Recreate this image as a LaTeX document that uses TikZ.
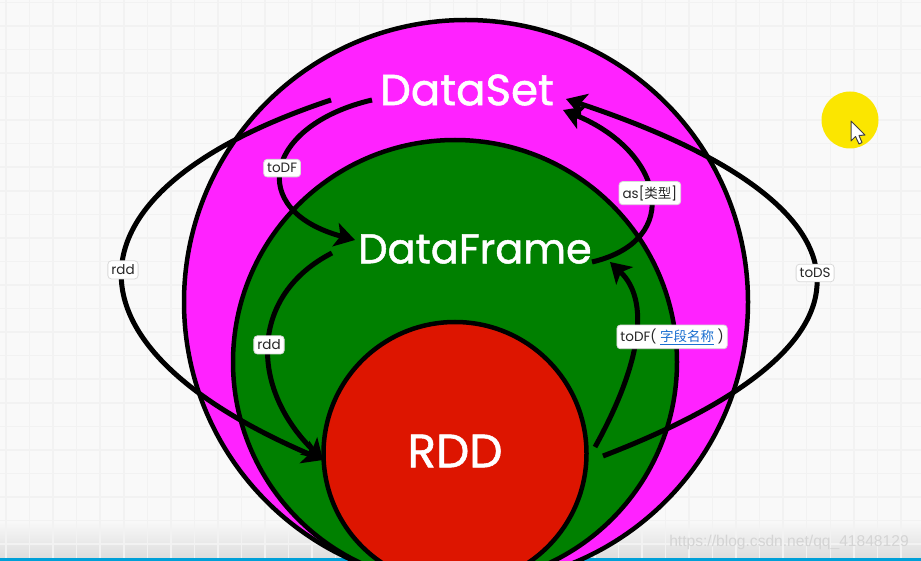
\documentclass[tikz,border=0pt]{standalone}
\usepackage{fontspec}
\setmainfont{Poppins}
\newfontfamily\titlefont[FakeBold=1.2]{Poppins}
\newfontfamily\cjkfont{Noto Sans CJK SC}
\newfontfamily\markfont{Liberation Sans}
\usetikzlibrary{arrows.meta}
\definecolor{paper}{HTML}{F9F9F9}
\definecolor{gridline}{HTML}{F2F2F2}
\definecolor{setpink}{HTML}{FF22FF}
\definecolor{framegreen}{HTML}{008000}
\definecolor{rddred}{HTML}{DD1500}
\definecolor{linkblue}{HTML}{1A6FD0}
\definecolor{barblue}{HTML}{00A0D8}
\definecolor{spotyellow}{HTML}{FBE600}
\tikzset{
	blob/.style={shape=circle,draw=black,line width=4.5pt,inner sep=0pt},
	title/.style={text=white},
	conn/.style={line width=5pt,draw=black},
	connarrow/.style={conn,-{Stealth[length=20pt,width=24pt,inset=5pt]}},
	tag/.style={draw=black!15,fill=white,rounded corners=3.5pt,inner xsep=3.5pt,inner ysep=4pt,line width=0.8pt,text=black!85,font=\fontsize{13.5}{15}\selectfont},
}
\begin{document}
\begin{tikzpicture}[x=1pt,y=-1pt]
	
	\useasboundingbox (0,0) rectangle (921,561);
	\clip (0,0) rectangle (921,561);
	\fill[paper] (0,0) rectangle (921,561);
	\shade[top color=paper,bottom color=black!14] (0,520) rectangle (921,561);
	\foreach \gx in {0,...,39}
		\draw[gridline,line width=1.5pt] ({6+23.55*\gx},0) -- ({6+23.55*\gx},561);
	\foreach \gy in {0,...,23}
		\draw[gridline,line width=1.5pt] (0,{2.4+23.55*\gy}) -- (921,{2.4+23.55*\gy});
	\fill[barblue] (0,558) rectangle (921,561);
	
	\node[blob,fill=setpink,minimum size=564pt] (setblob) at (466, 302) {};
	\node[blob,fill=framegreen,minimum size=444pt] (frameblob) at (455, 362) {};
	\node[blob,fill=rddred,minimum size=263pt] (rddblob) at (455, 453.5) {};
	
	\node[title,font=\titlefont\fontsize{43.5}{45}\selectfont] (dataset) at (467, 90) {DataSet};
	\node[title,font=\titlefont\fontsize{41.5}{43}\selectfont] (dataframe) at (475, 249) {DataFrame};
	\node[title,font=\titlefont\fontsize{47}{49}\selectfont] (rdd) at (455, 451) {RDD};
	
	\coordinate (setoutleft) at (331, 100);
	\coordinate (setoutmid) at (372, 100);
	\coordinate (frameinleft) at (355, 240);
	\coordinate (frameoutleft) at (332, 253);
	\coordinate (rddinleft) at (323, 460);
	\coordinate (frameoutright) at (592, 262);
	\coordinate (setinmid) at (563, 110);
	\coordinate (rddoutmid) at (595, 447);
	\coordinate (frameinright) at (610, 262);
	\coordinate (rddoutlow) at (603, 456);
	\coordinate (setintop) at (566, 99);
	
	\draw[connarrow] (setoutleft) .. controls (60, 190) and (50, 343) .. node[tag] (rddouter) {rdd} (rddinleft);
	\draw[connarrow] (setoutmid) .. controls (265, 125) and (245, 210) .. node[tag] (todfleft) {toDF} (frameinleft);
	\draw[connarrow] (frameoutleft) .. controls (250, 295) and (249, 387) .. node[tag] (rddinner) {rdd} (rddinleft);
	\draw[connarrow] (frameoutright) .. controls (685, 240) and (663, 151) .. node[tag] (asbox) {as[{\cjkfont 类型}]} (setinmid);
	\draw[connarrow] (rddoutmid) .. controls (642, 362) and (650, 300) .. node[tag,xshift=37pt] (todfright) {toDF( \textcolor{linkblue}{\underline{\cjkfont 字段名称}} )} (frameinright);
	\draw[connarrow] (rddoutlow) .. controls (905, 340) and (879, 203) .. node[tag] (todsbox) {toDS} (setintop);
	
	\node[shape=circle,fill=spotyellow,minimum size=57pt,inner sep=0pt] (spot) at (850, 120) {};
	\draw[fill=white,draw=black!75,line width=1pt,line join=round] (851,121) -- (851,141) -- (855.5,136.5) -- (859,144) -- (862,142.5) -- (859,135.5) -- (865,135) -- cycle;
	
	\node[text=black!17,font=\markfont\fontsize{15.6}{17}\selectfont] (blogmark) at (789, 542) {https://blog.csdn.net/qq\_41848129};
	
\end{tikzpicture}
\end{document}
